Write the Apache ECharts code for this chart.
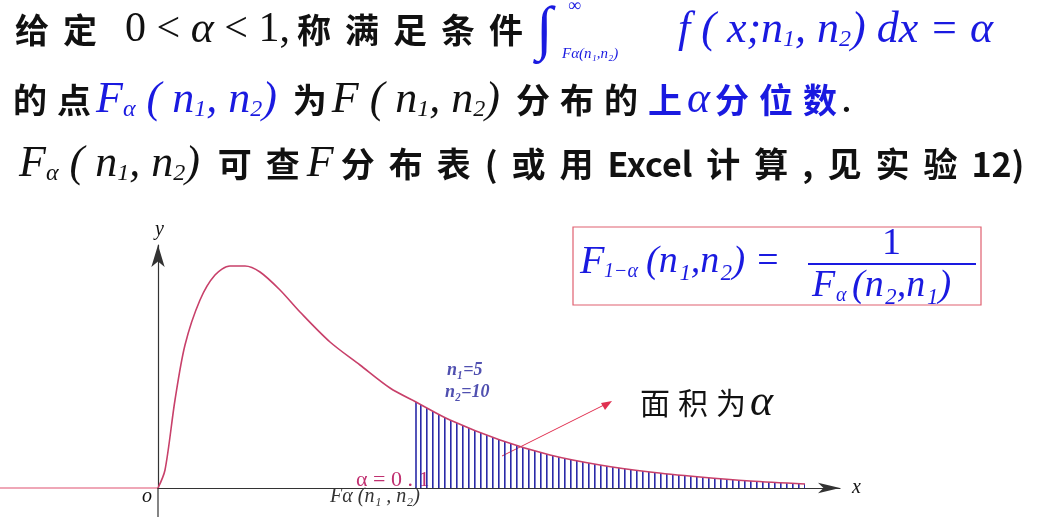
<!DOCTYPE html>
<html><head><meta charset="utf-8">
<script src="https://cdn.jsdelivr.net/npm/echarts@6/dist/echarts.min.js"></script>
<style>html,body{margin:0;background:#fff}#c{width:1048px;height:517px}</style>
</head><body><div id="c"></div>
<script>
// curve (x,y in plot units: px from origin)
const curveX = [0,7,17,27,42,57,72,87,102,122,142,172,202,232,258,292,342,392,442,492,542,592,647];
const curveY = [0,18,88,143,188,213,222,222,216,198,176,146,123,100,86,68,48,33,23,16,11,7,4];
const quantileX = 258;

const full = curveX.map((x,i)=>[x,curveY[i]]);
const tail = full.filter(p=>p[0]>=quantileX);

const pc = document.createElement('canvas'); pc.width=6.3; pc.height=10;
const g = pc.getContext('2d'); g.fillStyle='#2a2aa8'; g.fillRect(0,0,1.6,10);

const CJK = '"Noto Sans CJK SC"', SER = '"Liberation Serif"';
const blue='#1a1ae0';
const it = (s)=>'italic '+s+'px '+SER;
function tt(x,y,text,o){return {type:'text',x:x,y:y,style:Object.assign({text:text,font:'bold 28px '+CJK,fill:'#111',textVerticalAlign:'middle'},o||{})};}
const R = {
  c:{font:'bold 34px '+CJK,fill:'#111',padding:[0,5]},
  cw:{font:'bold 34px '+CJK,fill:'#111',padding:[0,7]},
  cb:{font:'bold 34px '+CJK,fill:blue,padding:[0,5]},
  m:{font:it(44),fill:'#111'},
  mb:{font:it(44),fill:blue},
  s:{font:it(24),fill:'#111',verticalAlign:'bottom'},
  sb:{font:it(24),fill:blue,verticalAlign:'bottom'},
  n:{font:'42px '+SER,fill:'#111'},
  k:{font:'30px '+CJK,fill:'#111',padding:[0,4]}
};
// wrap each CJK char in its own token so it gets padding
const C = (s,k)=>s.split('').map(ch=>'{'+(k||'c')+'|'+ch+'}').join('');
function rt(x,y,text){return {type:'text',x:x,y:y,style:{text:text,rich:R,textVerticalAlign:'middle',font:'bold 34px '+CJK}};}

const chart = echarts.init(document.getElementById('c'));
chart.setOption({
  animation:false,
  grid:{left:158,right:208,top:245,bottom:29},
  xAxis:{type:'value',min:0,max:682,axisLine:{symbol:['none','arrow'],symbolSize:[8,22],lineStyle:{color:'#333',width:1.2}},axisTick:{show:false},axisLabel:{show:false},splitLine:{show:false}},
  yAxis:{type:'value',min:0,max:243,axisLine:{show:true,symbol:['none','arrow'],symbolSize:[10,22],lineStyle:{color:'#333',width:1.2}},axisTick:{show:false},axisLabel:{show:false},splitLine:{show:false}},
  series:[
    {type:'line',data:tail,symbol:'none',smooth:0.3,lineStyle:{width:0},areaStyle:{color:{image:pc,repeat:'repeat'},opacity:1},z:1},
    {type:'line',data:full,symbol:'none',smooth:0.3,lineStyle:{color:'#c8406a',width:1.6},z:3}
  ],
  graphic:[
    {type:'line',shape:{x1:0,y1:488,x2:158,y2:488},style:{stroke:'#e05070',lineWidth:1.2}},
    {type:'line',shape:{x1:158,y1:488,x2:158,y2:517},style:{stroke:'#333',lineWidth:1.2}},
    {type:'line',shape:{x1:416,y1:402,x2:416,y2:488},style:{stroke:'#2a2aa8',lineWidth:1.6}},
    // line 1
    rt(8,30,C('给定','cw')+'{n|  0 < }{m|α}{n| < 1,}'+C('称满足条件','cw')),
    tt(536,32,'∫',{font:'italic 60px '+SER,fill:blue}),
    tt(568,6,'∞',{font:'18px '+SER,fill:blue}),
    tt(562,54,'Fα(n₁,n₂)',{font:it(15),fill:blue}),
    rt(678,30,'{mb|f}{mb| ( x;n}{sb|1}{mb|, n}{sb|2}{mb|) dx = α}'),
    // line 2
    rt(8,100,C('的点')+'{mb|F}{sb|α}{mb| ( n}{sb|1}{mb|, n}{sb|2}{mb|) }'+C('为')+'{m|F ( n}{s|1}{m|, n}{s|2}{m|) }'+C('分布的')+C('上','cb')+'{mb|α}'+C('分位数','cb')+'{m|.}'),
    // line 3
    rt(8,164,'{m| F}{s|α}{m| ( n}{s|1}{m|, n}{s|2}{m|) }'+C('可查','cw')+'{m|F}'+C('分布表(或用','cw')+'{cw|Excel}'+C('计算,见实验','cw')+'{cw|12)}'),
    // box
    {type:'rect',shape:{x:573,y:227,width:408,height:78},style:{fill:'none',stroke:'#e06070',lineWidth:1.2}},
    tt(580,262,'F',{font:it(40),fill:blue}),
    tt(604,272,'1−α',{font:it(20),fill:blue}),
    tt(646,262,'(n₁,n₂) =',{font:it(38),fill:blue}),
    tt(882,244,'1',{font:'38px '+SER,fill:blue}),
    {type:'line',shape:{x1:808,y1:264,x2:976,y2:264},style:{stroke:blue,lineWidth:2}},
    tt(812,286,'F',{font:it(38),fill:blue}),
    tt(836,296,'α',{font:it(20),fill:blue}),
    tt(852,286,'(n₂,n₁)',{font:it(38),fill:blue}),
    // chart labels
    tt(447,370,'n₁=5',{font:'bold italic 18px '+SER,fill:'#5050b0'}),
    tt(445,392,'n₂=10',{font:'bold italic 18px '+SER,fill:'#5050b0'}),
    {type:'text',x:636,y:403,style:{text:C('面积为','k')+'{m|α}',rich:R,textVerticalAlign:'middle'}},
    {type:'line',shape:{x1:502,y1:456,x2:606,y2:404},style:{stroke:'#e03050',lineWidth:1}},
    {type:'polygon',shape:{points:[[612,401],[601,403],[605,410]]},style:{fill:'#e03050'}},
    tt(356,480,'α = 0 . 1',{font:'22px '+SER,fill:'#c03070'}),
    tt(330,497,'Fα (n₁ , n₂)',{font:'italic 20px '+SER,fill:'#333'}),
    tt(142,497,'o',{font:it(20)}),
    tt(155,230,'y',{font:it(20)}),
    tt(852,488,'x',{font:it(20)})
  ]
});
</script></body></html>
